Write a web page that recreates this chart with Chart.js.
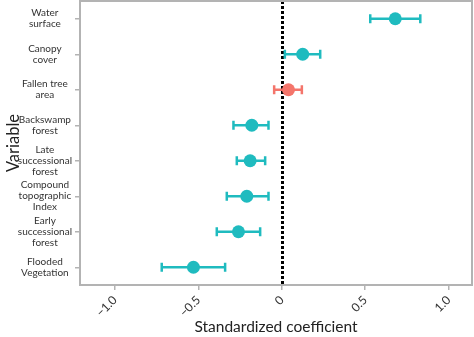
<!DOCTYPE html>
<html>
<head>
<meta charset="utf-8">
<script src="https://cdn.jsdelivr.net/npm/chart.js@4/dist/chart.umd.min.js"></script>
<style>
  html, body { margin: 0; padding: 0; background: #fff; }
  #wrap { width: 474px; height: 337px; }
</style>
</head>
<body>
<div id="wrap"><canvas id="canvas_coef"></canvas></div>
<script>
// variables, top to bottom
var variables = [
	[ "Water", "surface" ],
	[ "Canopy", "cover" ],
	[ "Fallen tree", "area" ],
	[ "Backswamp", "forest" ],
	[ "Late", "successional", "forest" ],
	[ "Compound", "topographic", "Index" ],
	[ "Early", "successional", "forest" ],
	[ "Flooded", "Vegetation" ]
];
var estimates = [ 0.68, 0.125, 0.04, -0.18, -0.19, -0.21, -0.26, -0.53 ];
var lowerCI = [ 0.53, 0.018, -0.046, -0.29, -0.27, -0.33, -0.39, -0.72 ];
var upperCI = [ 0.83, 0.23, 0.12, -0.08, -0.10, -0.08, -0.13, -0.34 ];
// significant = interval does not cross zero
var significant = [ true, true, false, true, true, true, true, true ];
var xTicks = [ -1.0, -0.5, 0, 0.5, 1.0 ];
var xTickLabels = [ "\u22121.0", "\u22120.5", "0", "0.5", "1.0" ];

var teal = "#1fbbbf";
var salmon = "#f4756b";
var fontFam = "Lato, 'Open Sans', sans-serif";

var pointColors = significant.map(function(s) {
	return s ? teal : salmon;
});

// error bars + zero line + frame
var coefPlugin = {
	id : "coefPlugin",
	beforeDatasetsDraw : function(chart) {
		var ctx = chart.ctx;
		var xs = chart.scales.x, ys = chart.scales.y;
		var area = chart.chartArea;
		ctx.save();
		// dotted zero line
		ctx.strokeStyle = "#000";
		ctx.lineWidth = 3;
		ctx.setLineDash([ 3, 2 ]);
		var x0 = Math.round(xs.getPixelForValue(0)) + 0.5;
		ctx.beginPath();
		ctx.moveTo(x0, area.top);
		ctx.lineTo(x0, area.bottom);
		ctx.stroke();
		ctx.setLineDash([]);
		// error bars
		ctx.lineWidth = 2.5;
		for (var i = 0; i < variables.length; i++) {
			var y = ys.getPixelForValue(i);
			var xl = xs.getPixelForValue(lowerCI[i]);
			var xu = xs.getPixelForValue(upperCI[i]);
			ctx.strokeStyle = pointColors[i];
			ctx.beginPath();
			ctx.moveTo(xl, y);
			ctx.lineTo(xu, y);
			ctx.moveTo(xl, y - 4.5);
			ctx.lineTo(xl, y + 4.5);
			ctx.moveTo(xu, y - 4.5);
			ctx.lineTo(xu, y + 4.5);
			ctx.stroke();
		}
		ctx.restore();
	},
	afterDraw : function(chart) {
		var ctx = chart.ctx;
		var area = chart.chartArea;
		ctx.save();
		ctx.strokeStyle = "#b3b3b3";
		ctx.lineWidth = 2;
		ctx.strokeRect(area.left, area.top, area.right - area.left,
				area.bottom - area.top);
		ctx.restore();
	}
};

var coefChart = new Chart(document.getElementById("canvas_coef"), {
	type : "scatter",
	data : {
		labels : variables,
		datasets : [ {
			data : estimates.map(function(v, i) {
				return { x : v, y : i };
			}),
			backgroundColor : pointColors,
			borderColor : pointColors,
			pointRadius : 6.5,
			pointHoverRadius : 6.5,
			borderWidth : 0
		} ]
	},
	options : {
		responsive : true,
		maintainAspectRatio : false,
		animation : false,
		layout : {
			autoPadding : false,
			padding : { left : 0, right : 2, top : 1, bottom : 0 }
		},
		plugins : {
			legend : { display : false },
			tooltip : { enabled : false }
		},
		scales : {
			x : {
				type : "linear",
				min : -1.21,
				max : 1.14,
				afterBuildTicks : function(scale) {
					scale.ticks = xTicks.map(function(v) {
						return { value : v };
					});
				},
				afterFit : function(scale) {
					scale.height = 52;
					scale.paddingLeft = 0;
					scale.paddingRight = 0;
				},
				grid : {
					drawOnChartArea : false,
					drawTicks : true,
					tickLength : 5,
					color : "#b3b3b3",
					lineWidth : 1.5
				},
				border : { display : true, color : "#b3b3b3", width : 2 },
				ticks : {
					minRotation : 45,
					maxRotation : 45,
					padding : 3,
					color : "#333",
					font : { family : fontFam, size : 12 },
					callback : function(value) {
						var k = xTicks.indexOf(value);
						return k >= 0 ? xTickLabels[k] : "";
					}
				},
				title : {
					display : true,
					text : "Standardized coefficient",
					color : "#222",
					padding : { top : 0, bottom : 1 },
					font : { family : fontFam, size : 15.5 }
				}
			},
			y : {
				type : "category",
				labels : variables,
				offset : true,
				min : 0,
				max : variables.length - 1,
				afterFit : function(scale) {
					scale.width = 80;
					scale.paddingTop = 0;
					scale.paddingBottom = 0;
				},
				grid : {
					offset : false,
					drawOnChartArea : false,
					drawTicks : true,
					tickLength : 5,
					color : "#b3b3b3",
					lineWidth : 1.5
				},
				border : { display : true, color : "#b3b3b3", width : 2 },
				ticks : {
					autoSkip : false,
					padding : 3,
					color : "#333",
					crossAlign : "center",
					font : { family : fontFam, size : 10, lineHeight : 1.1 }
				},
				title : {
					display : true,
					text : "Variable",
					color : "#222",
					padding : { top : 4, bottom : 0 },
					font : { family : fontFam, size : 16.5 }
				}
			}
		}
	},
	plugins : [ coefPlugin ]
});
</script>
</body>
</html>
